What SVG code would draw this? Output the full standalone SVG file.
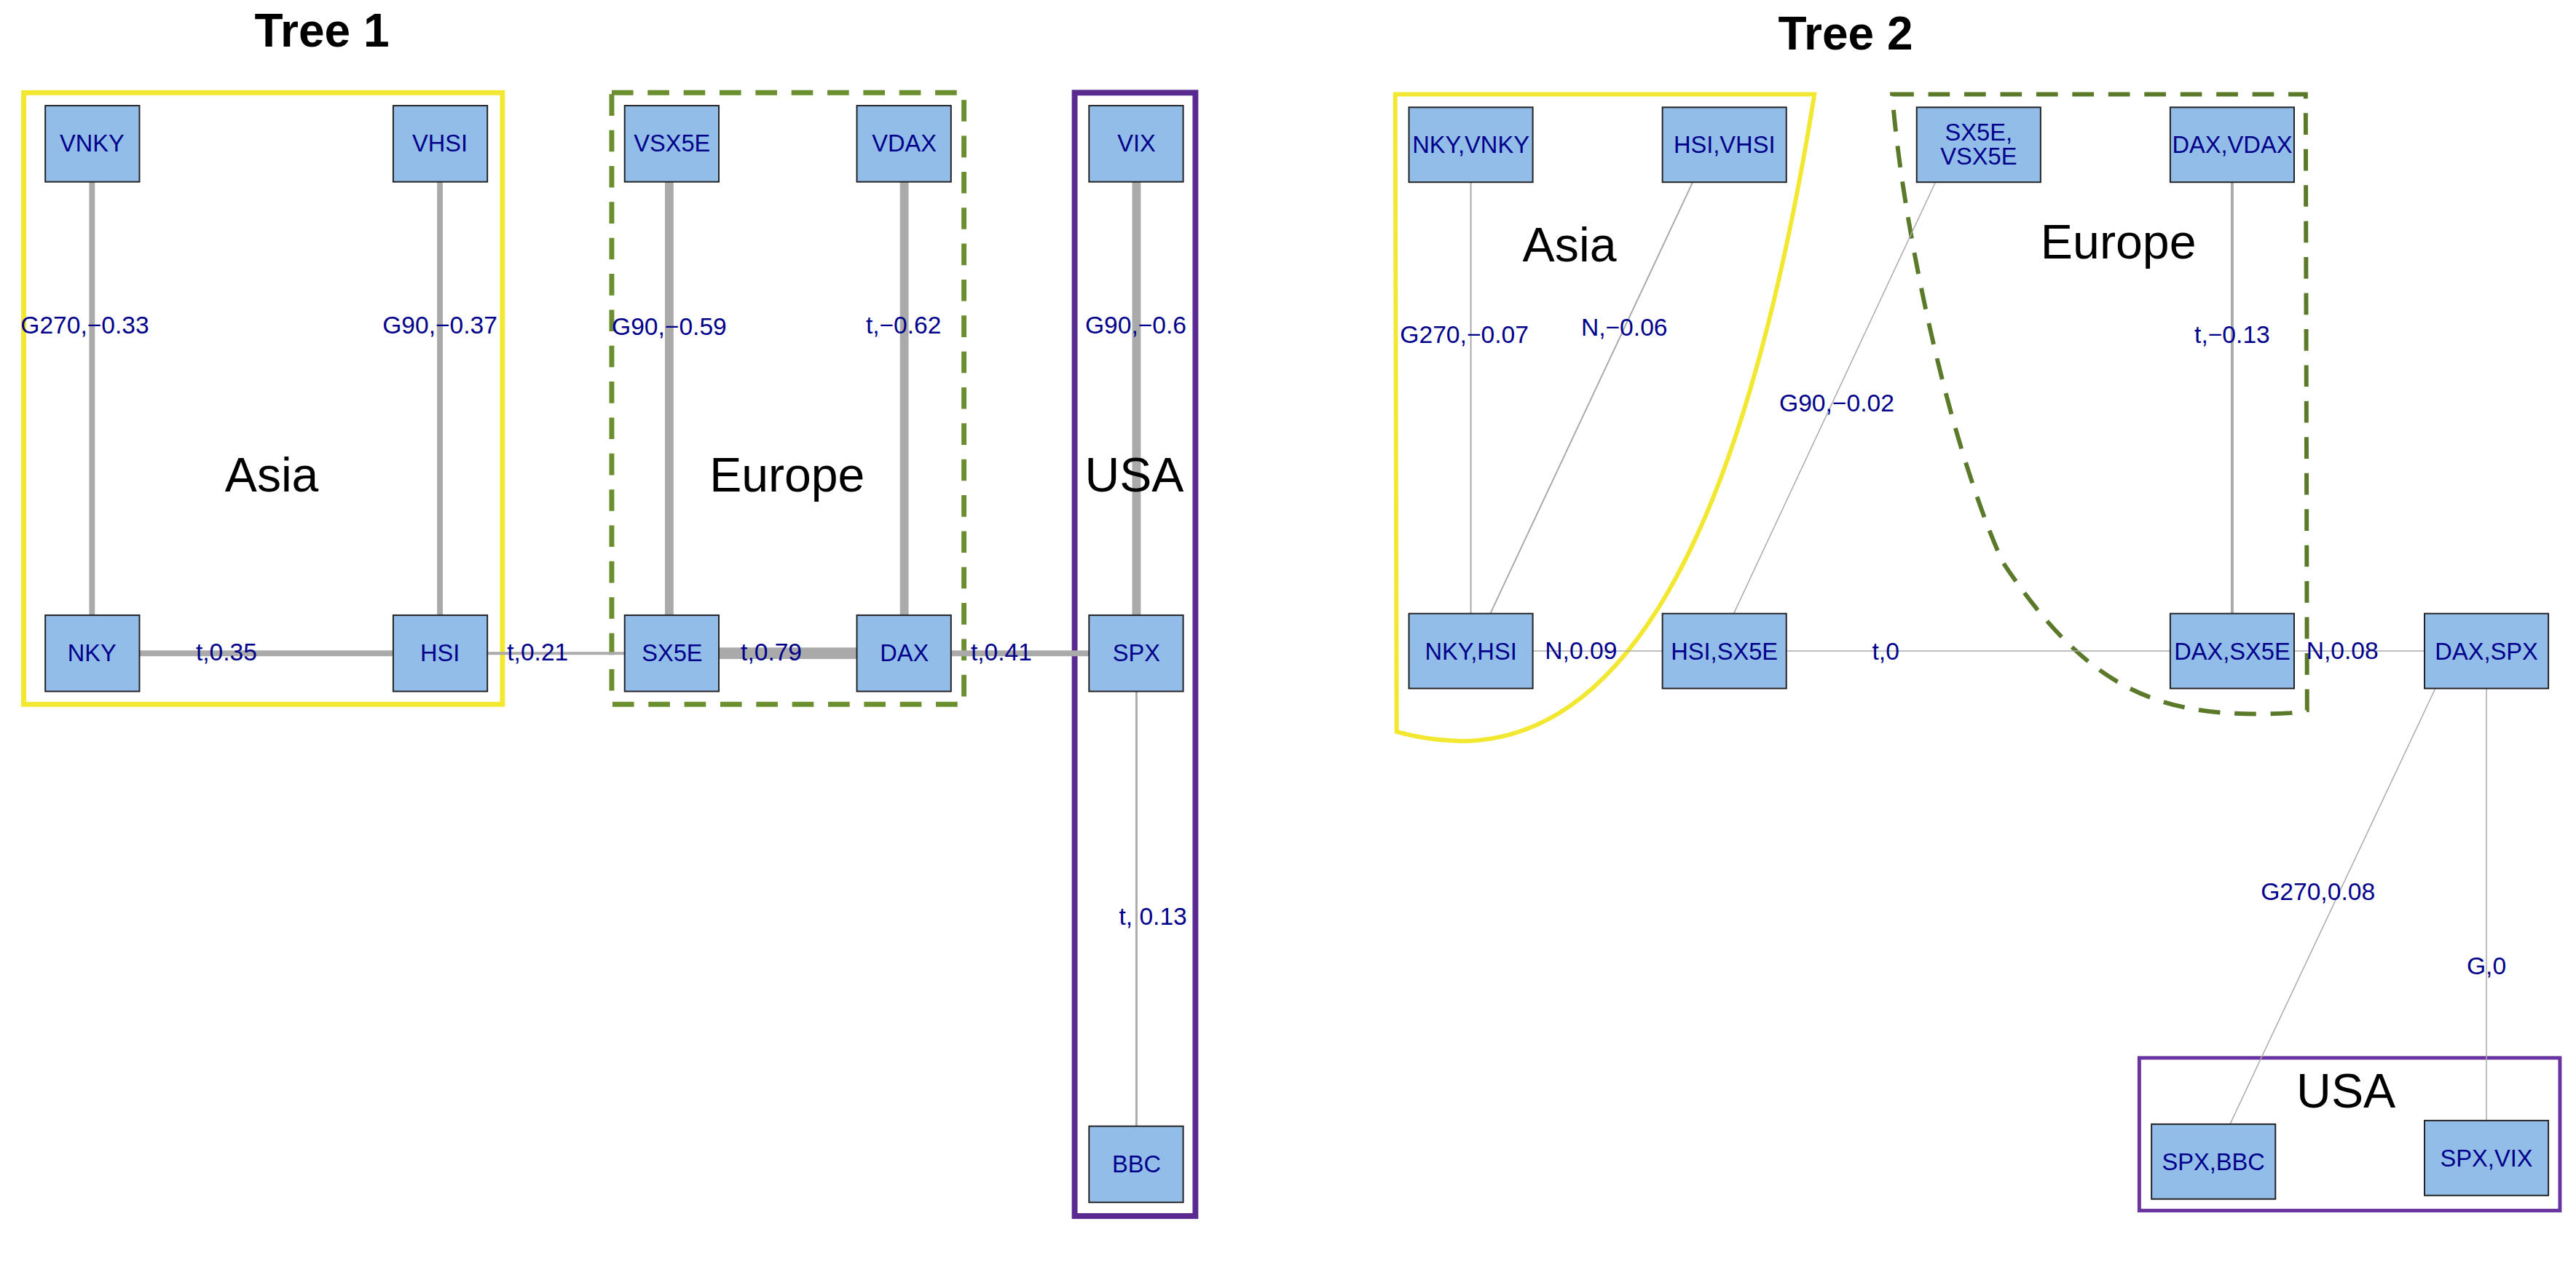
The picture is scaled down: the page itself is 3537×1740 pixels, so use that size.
<svg xmlns="http://www.w3.org/2000/svg" width="3537" height="1740" viewBox="0 0 3537 1740">
<style>
.n rect{fill:#92bde9;stroke:#222;stroke-width:2}
text{font-family:"Liberation Sans",Arial,sans-serif}
.nt{font-size:33px;fill:#00008b;text-anchor:middle;dominant-baseline:central}
.el{font-size:34px;fill:#00008b;text-anchor:middle;dominant-baseline:central}
.rg{font-size:67px;fill:#000;text-anchor:middle;dominant-baseline:central}
.ti{font-size:64px;font-weight:bold;text-anchor:middle}
.e line{stroke:#aaa}
</style>
<rect width="3537" height="1740" fill="#fff"/>
<text class="ti" x="442" y="64">Tree 1</text>
<text class="ti" x="2534" y="68">Tree 2</text>
<g transform="scale(0.987)">
<g id="groups1">
<rect x="33" y="129" width="666" height="851" fill="none" stroke="#f2e832" stroke-width="7"/>
<rect x="851" y="129" width="490" height="851" fill="none" stroke="#6b8e2f" stroke-width="7" stroke-dasharray="30 20"/>
<rect x="1495" y="129" width="168" height="1563" fill="none" stroke="#5a2a90" stroke-width="8"/>
</g>
<g id="connectors1" class="e">
<line x1="128" y1="253" x2="128" y2="856" stroke-width="8"/>
<line x1="612" y1="253" x2="612" y2="856" stroke-width="8"/>
<line x1="931" y1="253" x2="931" y2="856" stroke-width="12"/>
<line x1="1258" y1="253" x2="1258" y2="856" stroke-width="12"/>
<line x1="1581" y1="253" x2="1581" y2="856" stroke-width="12"/>
<line x1="1581" y1="962" x2="1581" y2="1567" stroke-width="3"/>
<line x1="194" y1="909" x2="546" y2="909" stroke-width="8"/>
<line x1="678" y1="909" x2="869" y2="909" stroke-width="4"/>
<line x1="997" y1="909" x2="1192" y2="909" stroke-width="16"/>
<line x1="1324" y1="909" x2="1515" y2="909" stroke-width="8"/>
</g>
<g id="labels1">
<text class="el" x="118" y="452">G270,−0.33</text>
<text class="el" x="612" y="452">G90,−0.37</text>
<text class="el" x="931" y="454">G90,−0.59</text>
<text class="el" x="1257" y="452">t,−0.62</text>
<text class="el" x="1580" y="452">G90,−0.6</text>
<text class="el" x="1604" y="1275">t, 0.13</text>
<text class="el" x="315" y="907">t,0.35</text>
<text class="el" x="748" y="907">t,0.21</text>
<text class="el" x="1073" y="907">t,0.79</text>
<text class="el" x="1393" y="907">t,0.41</text>
<text class="rg" x="378" y="661">Asia</text>
<text class="rg" x="1095" y="661">Europe</text>
<text class="rg" x="1578" y="661">USA</text>
</g>
<g id="VNKY" class="n"><rect x="63" y="147" width="131" height="106"/><text class="nt" x="128" y="200">VNKY</text></g>
<g id="VHSI" class="n"><rect x="547" y="147" width="131" height="106"/><text class="nt" x="612" y="200">VHSI</text></g>
<g id="VSX5E" class="n"><rect x="869" y="147" width="131" height="106"/><text class="nt" x="935" y="200">VSX5E</text></g>
<g id="VDAX" class="n"><rect x="1192" y="147" width="131" height="106"/><text class="nt" x="1258" y="200">VDAX</text></g>
<g id="VIX" class="n"><rect x="1515" y="147" width="131" height="106"/><text class="nt" x="1581" y="200">VIX</text></g>
<g id="NKY" class="n"><rect x="63" y="856" width="131" height="106"/><text class="nt" x="128" y="909">NKY</text></g>
<g id="HSI" class="n"><rect x="547" y="856" width="131" height="106"/><text class="nt" x="612" y="909">HSI</text></g>
<g id="SX5E" class="n"><rect x="869" y="856" width="131" height="106"/><text class="nt" x="935" y="909">SX5E</text></g>
<g id="DAX" class="n"><rect x="1192" y="856" width="131" height="106"/><text class="nt" x="1258" y="909">DAX</text></g>
<g id="SPX" class="n"><rect x="1515" y="856" width="131" height="106"/><text class="nt" x="1581" y="909">SPX</text></g>
<g id="BBC" class="n"><rect x="1515" y="1567" width="131" height="106"/><text class="nt" x="1581" y="1620">BBC</text></g>
</g>
<g transform="translate(1800,0) scale(0.989) translate(-1800,0)">
<g id="groups2">
<path d="M1917,131 L2499,131 C2430,560 2300,1030 2007,1029 C1970,1028 1940,1022 1919,1016 Z" fill="none" stroke="#f2e832" stroke-width="6"/>
<path d="M2607,131 L3181,131 L3183,986 L3160,990 C2980,1000 2880,960 2760,780 C2680,600 2620,300 2607,131 Z" fill="none" stroke="#5a7a2a" stroke-width="6" stroke-dasharray="30 20"/>
<rect x="2950" y="1469" width="584" height="212" fill="none" stroke="#6a34a0" stroke-width="5"/>
</g>
<g id="connectors2" class="e">
<line x1="2022" y1="253" x2="2022" y2="852" stroke-width="2"/>
<line x1="2330" y1="253" x2="2049" y2="852" stroke-width="2"/>
<line x1="2667" y1="253" x2="2387" y2="852" stroke-width="1.5"/>
<line x1="3079" y1="253" x2="3079" y2="852" stroke-width="4"/>
<line x1="2108" y1="904" x2="3346" y2="904" stroke-width="1.5"/>
<line x1="3361" y1="956" x2="3076" y2="1561" stroke-width="1.5"/>
<line x1="3432" y1="956" x2="3432" y2="1556" stroke-width="1.5" stroke="#ccc"/>
</g>
<g id="labels2">
<text class="el" x="2013" y="465">G270,−0.07</text>
<text class="el" x="2235" y="454">N,−0.06</text>
<text class="el" x="2530" y="560">G90,−0.02</text>
<text class="el" x="3079" y="465">t,−0.13</text>
<text class="el" x="2175" y="903">N,0.09</text>
<text class="el" x="2598" y="904">t,0</text>
<text class="el" x="3232" y="903">N,0.08</text>
<text class="el" x="3198" y="1238">G270,0.08</text>
<text class="el" x="3432" y="1341">G,0</text>
<text class="rg" x="2159" y="340">Asia</text>
<text class="rg" x="2921" y="336">Europe</text>
<text class="rg" x="3237" y="1515">USA</text>
</g>
<g id="NKY_VNKY" class="n"><rect x="1936" y="149" width="172" height="104"/><text class="nt" x="2022" y="201">NKY,VNKY</text></g>
<g id="HSI_VHSI" class="n"><rect x="2288" y="149" width="172" height="104"/><text class="nt" x="2374" y="201">HSI,VHSI</text></g>
<g id="SX5E_VSX5E" class="n"><rect x="2641" y="149" width="172" height="104"/><text class="nt" x="2727" y="184">SX5E,</text><text class="nt" x="2727" y="217">VSX5E</text></g>
<g id="DAX_VDAX" class="n"><rect x="2993" y="149" width="172" height="104"/><text class="nt" x="3079" y="201">DAX,VDAX</text></g>
<g id="NKY_HSI" class="n"><rect x="1936" y="852" width="172" height="104"/><text class="nt" x="2022" y="904">NKY,HSI</text></g>
<g id="HSI_SX5E" class="n"><rect x="2288" y="852" width="172" height="104"/><text class="nt" x="2374" y="904">HSI,SX5E</text></g>
<g id="DAX_SX5E" class="n"><rect x="2993" y="852" width="172" height="104"/><text class="nt" x="3079" y="904">DAX,SX5E</text></g>
<g id="DAX_SPX" class="n"><rect x="3346" y="852" width="172" height="104"/><text class="nt" x="3432" y="904">DAX,SPX</text></g>
<g id="SPX_BBC" class="n"><rect x="2967" y="1561" width="172" height="104"/><text class="nt" x="3053" y="1613">SPX,BBC</text></g>
<g id="SPX_VIX" class="n"><rect x="3346" y="1556" width="172" height="104"/><text class="nt" x="3432" y="1608">SPX,VIX</text></g>
</g>
</svg>
